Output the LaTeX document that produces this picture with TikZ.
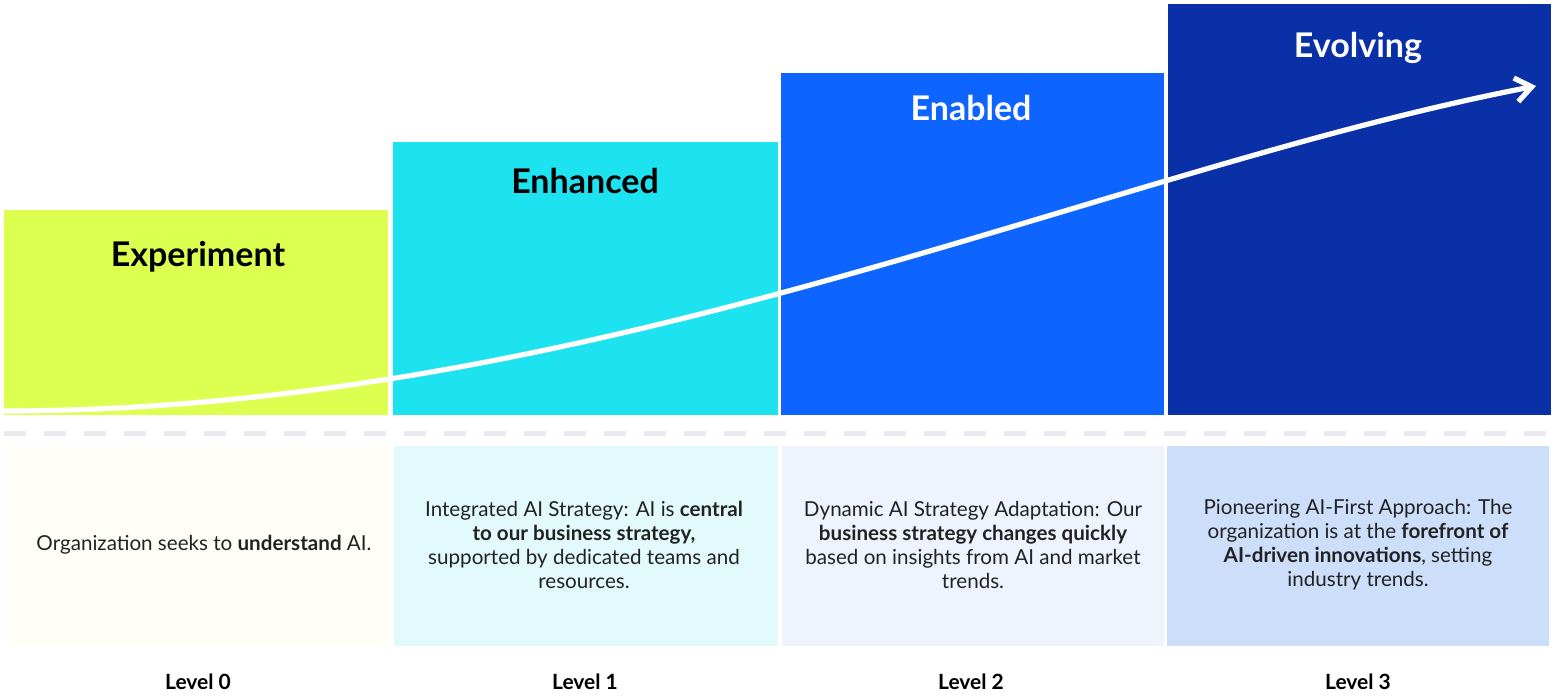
\documentclass[tikz,border=0pt]{standalone}
\usepackage{fontspec}
\setmainfont{Lato}
\usetikzlibrary{arrows.meta}
\definecolor{cLime}{HTML}{DDFF4F}
\definecolor{cCyan}{HTML}{1DE3F0}
\definecolor{cBlue}{HTML}{0E64FF}
\definecolor{cNavy}{HTML}{0A30A8}
\definecolor{pLime}{HTML}{FFFEF7}
\definecolor{pCyan}{HTML}{E3FAFC}
\definecolor{pBlue}{HTML}{EEF3FE}
\definecolor{pNavy}{HTML}{CCDEFA}
\definecolor{dashgrey}{HTML}{E9E9EF}
\definecolor{bodytext}{HTML}{222222}
\tikzset{
  stagetitle/.style={font=\fontsize{17}{20}\selectfont\bfseries, anchor=center},
  bodytxt/.style={font=\fontsize{10.3}{12}\selectfont, text=bodytext, align=center, anchor=center},
  levellabel/.style={font=\fontsize{10.5}{12}\selectfont\bfseries, text=black, anchor=center},
  growth/.style={draw=white, line width=2.6pt, line cap=round, -{Straight Barb[length=8pt,width=12pt,line width=2.6pt]}},
  divider/.style={draw=dashgrey, line width=2.5pt, dash pattern=on 11pt off 9pt}
}
\begin{document}
\begin{tikzpicture}[x=0.5pt,y=-0.5pt]
\useasboundingbox[fill=white] (0,0) rectangle (1556,696);
% stage blocks
\fill[cLime] (4,210) rectangle (388,415);
\fill[cCyan] (393,142) rectangle (778,415);
\fill[cBlue] (781,73) rectangle (1164,415);
\fill[cNavy] (1168,4) rectangle (1551,415);
% titles
\node[stagetitle, text=black] (t0) at (198,257) {Experiment};
\node[stagetitle, text=black] (t1) at (585,181) {Enhanced};
\node[stagetitle, text=white] (t2) at (971,108) {Enabled};
\node[stagetitle, text=white] (t3) at (1358,48) {Evolving};
% growth curve
\coordinate (cs) at (4,411);
\coordinate (ce) at (1536,86);
\draw[growth] (cs) .. controls (600,410) and (1100,170) .. (ce);
% divider
\coordinate (ds) at (4,433);
\coordinate (de) at (1556,433);
\draw[divider] (ds) -- (de);
% description panels
\fill[pLime] (6,446) rectangle (392,646);
\fill[pCyan] (394,446) rectangle (778,646);
\fill[pBlue] (782,446) rectangle (1164,646);
\fill[pNavy] (1167,446) rectangle (1549,646);
\node[bodytxt] (d0) at (204,545) {Organization seeks to \textbf{understand} AI.};
\node[bodytxt] (d1) at (584,545) {Integrated AI Strategy: AI is \textbf{central}\\\textbf{to our business strategy,}\\supported by dedicated teams and\\resources.};
\node[bodytxt] (d2) at (973,545) {Dynamic AI Strategy Adaptation: Our\\\textbf{business strategy changes quickly}\\based on insights from AI and market\\trends.};
\node[bodytxt] (d3) at (1358,545) {Pioneering AI-First Approach: The\\organization is at the \textbf{forefront of}\\\textbf{AI-driven innovations}, setting\\industry trends.};
% levels
\node[levellabel] (l0) at (198,682) {Level 0};
\node[levellabel] (l1) at (585,682) {Level 1};
\node[levellabel] (l2) at (971,682) {Level 2};
\node[levellabel] (l3) at (1358,682) {Level 3};
\end{tikzpicture}
\end{document}
